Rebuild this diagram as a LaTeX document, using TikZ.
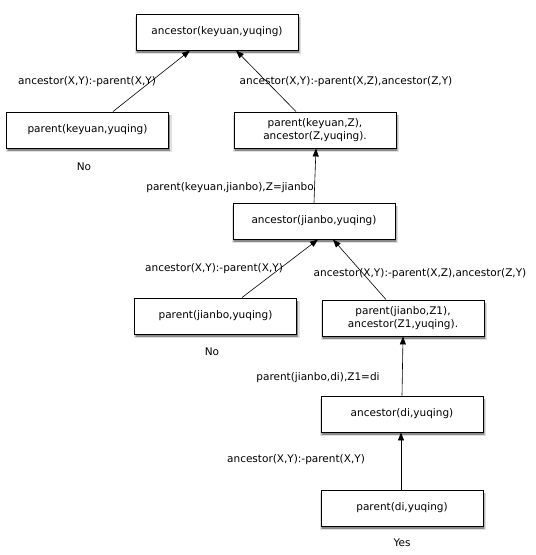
\documentclass[tikz,border=0pt]{standalone}
\usepackage{fontspec}
\setmainfont{DejaVu Sans}
\usetikzlibrary{arrows.meta,shadows}
\begin{document}
\begin{tikzpicture}[x=1pt,y=-1pt,
  goal/.style={draw=black, line width=0.9pt, fill=white, minimum width=162pt, minimum height=36pt,
    align=center, inner sep=2pt, font=\fontsize{10.5}{12.5}\selectfont,
    drop shadow={shadow xshift=1pt, shadow yshift=-3pt, shadow scale=1.025, opacity=0.12, fill=black},
    drop shadow={shadow xshift=1pt, shadow yshift=-3pt, shadow scale=1.01, opacity=0.18, fill=black},
    drop shadow={shadow xshift=1pt, shadow yshift=-2.5pt, opacity=0.25, fill=black}},
  lbl/.style={inner sep=0pt, font=\fontsize{10.5}{12.5}\selectfont},
  edge/.style={draw=black, line width=0.6pt, -{Triangle[length=8pt,width=6pt]}}]
\useasboundingbox (0,0) rectangle (536,555);
\node[goal] (A1) at (217,32) {ancestor(keyuan,yuqing)};
\node[goal] (P1) at (87.5,130) {parent(keyuan,yuqing)};
\node[goal] (R1) at (315,130) {parent(keyuan,Z),\\ancestor(Z,yuqing).};
\node[goal] (A2) at (314,221) {ancestor(jianbo,yuqing)};
\node[goal] (P2) at (215.5,316) {parent(jianbo,yuqing)};
\node[goal] (R2) at (403,318) {parent(jianbo,Z1),\\ancestor(Z1,yuqing).};
\node[goal] (A3) at (402,414) {ancestor(di,yuqing)};
\node[goal] (P3) at (402,508) {parent(di,yuqing)};

\node[lbl] (L1) at (87,82) {ancestor(X,Y):-parent(X,Y)};
\node[lbl] (L2) at (346,82) {ancestor(X,Y):-parent(X,Z),ancestor(Z,Y)};
\node[lbl] (N1) at (84,167) {No};
\node[lbl, anchor=east] (L3) at (314,188) {parent(keyuan,jianbo),Z=jianbo};
\node[lbl] (L4) at (214,269) {ancestor(X,Y):-parent(X,Y)};
\node[lbl] (L5) at (420,274) {ancestor(X,Y):-parent(X,Z),ancestor(Z,Y)};
\node[lbl] (N2) at (212,352) {No};
\node[lbl] (L6) at (318,378) {parent(jianbo,di),Z1=di};
\node[lbl] (L7) at (296,460) {ancestor(X,Y):-parent(X,Y)};
\node[lbl] (Y1) at (402,543) {Yes};

\draw[edge] ([xshift=25.5pt]P1.north) -- ([xshift=-27pt]A1.south);
\draw[edge] ([xshift=-19pt]R1.north) -- ([xshift=19pt]A1.south);
\draw[edge] (A2.north) -- ([xshift=1pt]R1.south);
\draw[edge] ([xshift=26.5pt]P2.north) -- ([xshift=4pt]A2.south);
\draw[edge] ([xshift=-17pt]R2.north) -- ([xshift=19pt]A2.south);
\draw[edge] ([xshift=0pt]A3.north) -- ([xshift=0pt]R2.south);
\draw[edge] ([xshift=-1pt]P3.north) -- ([xshift=-1pt]A3.south);
\end{tikzpicture}
\end{document}
